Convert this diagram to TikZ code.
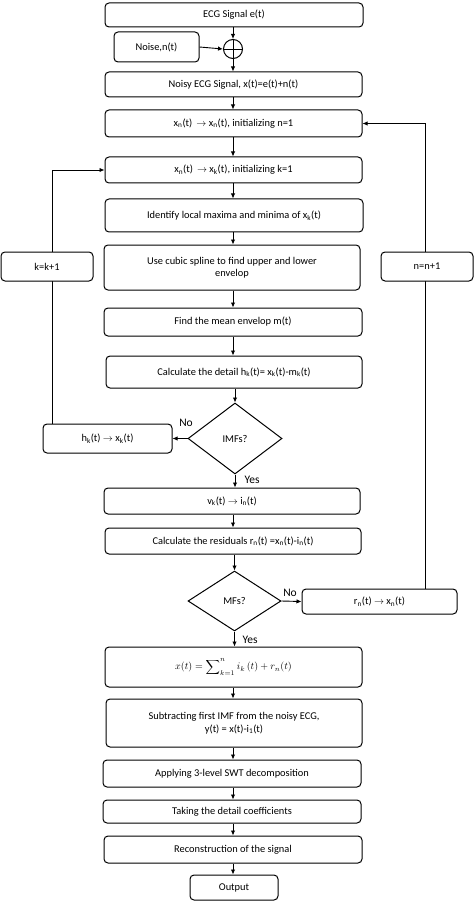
\documentclass[tikz,border=0pt]{standalone}
\usepackage{fontspec}
\setmainfont{Carlito}
\usetikzlibrary{arrows.meta,shapes.geometric}
\begin{document}
\begin{tikzpicture}[x=1pt,y=-1pt,
  box/.style={draw,rounded corners=4pt,line width=1pt,fill=white,inner sep=0pt,align=center,font=\fontsize{10.4}{12.5}\selectfont},
  dec/.style={draw,diamond,line width=1pt,fill=white,inner sep=0pt,font=\fontsize{10.4}{12.5}\selectfont},
  arr/.style={-{Latex[length=5pt,width=4.5pt]},line width=0.9pt},
  lbl/.style={font=\fontsize{11.5}{13}\selectfont,inner sep=0pt}]
\useasboundingbox (0,0) rectangle (474,901);
\node[box,minimum width=258pt,minimum height=24pt] (ecg) at (234,15) {ECG Signal e(t)};
\node[box,minimum width=85pt,minimum height=30pt] (noise) at (156.5,47) {Noise,n(t)};
\node[draw,circle,line width=1pt,minimum size=19pt,inner sep=0pt] (plus) at (233,49) {};
\draw[line width=0.9pt] (plus.north)--(plus.south) (plus.west)--(plus.east);
\node[box,minimum width=257pt,minimum height=25pt] (noisy) at (233.5,84.5) {Noisy ECG Signal, x(t)=e(t)+n(t)};
\node[box,minimum width=257pt,minimum height=27pt] (xn) at (233.5,123.5) {x\textsubscript{n}(t) \,$\rightarrow$ x\textsubscript{n}(t), initializing n=1};
\node[box,minimum width=257pt,minimum height=26pt] (xk) at (233.5,170) {x\textsubscript{n}(t) \,$\rightarrow$ x\textsubscript{k}(t), initializing k=1};
\node[box,minimum width=258pt,minimum height=33pt] (ident) at (234,215.5) {Identify local maxima and minima of x\textsubscript{k}(t)};
\node[box,minimum width=256pt,minimum height=45pt] (spline) at (232,267.5) {Use cubic spline to find upper and lower\\envelop};
\node[box,minimum width=258pt,minimum height=28pt] (mean) at (233,322) {Find the mean envelop m(t)};
\node[box,minimum width=256pt,minimum height=32pt] (detail) at (234,372) {Calculate the detail h\textsubscript{k}(t)= x\textsubscript{k}(t)-m\textsubscript{k}(t)};
\node[dec,minimum width=94pt,minimum height=71pt] (imf) at (235,438.5) {IMFs?};
\node[box,minimum width=129pt,minimum height=29pt] (hk) at (107.5,438.5) {h\textsubscript{k}(t) $\rightarrow$ x\textsubscript{k}(t)};
\node[box,minimum width=256pt,minimum height=26pt] (vk) at (232,501) {v\textsubscript{k}(t) $\rightarrow$ i\textsubscript{n}(t)};
\node[box,minimum width=256pt,minimum height=26pt] (resid) at (233,541) {Calculate the residuals r\textsubscript{n}(t) =x\textsubscript{n}(t)-i\textsubscript{n}(t)};
\node[dec,minimum width=93pt,minimum height=60pt] (mf) at (234.5,601) {MFs?};
\node[box,minimum width=155pt,minimum height=25pt] (rn) at (379.5,601.5) {r\textsubscript{n}(t) $\rightarrow$ x\textsubscript{n}(t)};
\node[box,minimum width=257pt,minimum height=40pt] (formula) at (233.5,667) {$x(t)=\displaystyle\sum\nolimits_{k=1}^{n} i_k\,(t)+r_n(t)$};
\node[box,minimum width=256pt,minimum height=48pt] (subtr) at (234,723) {Subtracting first IMF from the noisy ECG,\\y(t) = x(t)-i\textsubscript{1}(t)};
\node[box,minimum width=258pt,minimum height=27pt] (swt) at (232,773.5) {Applying 3-level SWT decomposition};
\node[box,minimum width=258pt,minimum height=23pt] (taking) at (232,811.5) {Taking the detail coefficients};
\node[box,minimum width=258pt,minimum height=27pt] (recon) at (233,849.5) {Reconstruction of the signal};
\node[box,minimum width=88pt,minimum height=25pt] (output) at (234,887.5) {Output};
% main flow
\draw[arr] (ecg.south -| plus) -- (plus.north);
\draw[arr] (noise.east) -- (plus.west);
\draw[arr] (plus.south) -- (plus.south |- noisy.north);
\draw[arr] (noisy.south -| plus) -- (plus |- xn.north);
\draw[arr] (xn.south -| plus) -- (plus |- xk.north);
\draw[arr] (xk.south -| plus) -- (plus |- ident.north);
\draw[arr] (ident.south -| plus) -- (plus |- spline.north);
\draw[arr] (spline.south -| plus) -- (plus |- mean.north);
\draw[arr] (mean.south -| plus) -- (plus |- detail.north);
\draw[arr] (detail.south -| imf) -- (imf.north);
\draw[arr] (imf.west) -- (hk.east);
\draw[arr] (imf.south) -- (imf.south |- vk.north);
\draw[arr] (vk.south -| plus) -- (plus |- resid.north);
\draw[arr] (resid.south -| mf) -- (mf.north);
\draw[arr] (mf.east) -- (rn.west);
\draw[arr] (mf.south) -- (mf.south |- formula.north);
\draw[arr] (formula.south -| plus) -- (plus |- subtr.north);
\draw[arr] (subtr.south -| plus) -- (plus |- swt.north);
\draw[arr] (swt.south -| plus) -- (plus |- taking.north);
\draw[arr] (taking.south -| plus) -- (plus |- recon.north);
\draw[arr] (recon.south -| plus) -- (plus |- output.north);
% loops
\coordinate (lx) at (52,0);
\coordinate (rx) at (425,0);
\draw[arr] (hk.north -| lx) -- (lx |- xk.west) -- (xk.west);
\draw[arr] (rn.north -| rx) -- (rx |- xn.east) -- (xn.east);
\node[box,minimum width=92pt,minimum height=29pt] (kk) at (47,266.5) {k=k+1};
\node[box,minimum width=92pt,minimum height=29pt] (nn) at (427,266.5) {n=n+1};
% labels
\node[lbl] (no1) at (186,423) {No};
\node[lbl] (yes1) at (252,480) {Yes};
\node[lbl] (no2) at (290,593) {No};
\node[lbl] (yes2) at (250,640) {Yes};
\end{tikzpicture}
\end{document}
